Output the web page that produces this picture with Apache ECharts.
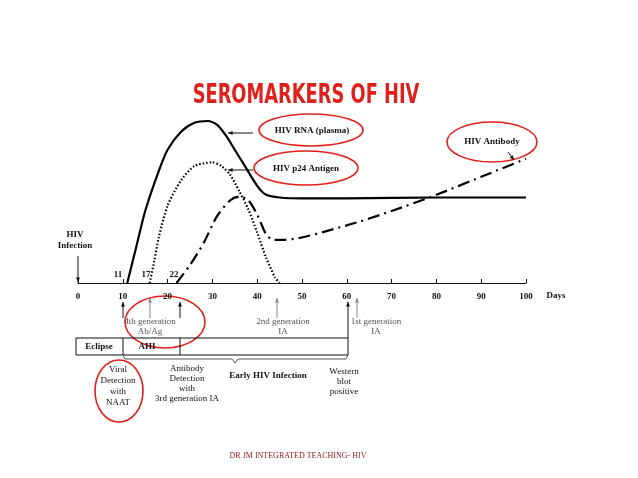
<!DOCTYPE html>
<html><head><meta charset="utf-8">
<script src="https://cdn.jsdelivr.net/npm/echarts@6/dist/echarts.min.js"></script>
<style>html,body{margin:0;background:#fff}#c{width:638px;height:478px}</style>
</head><body><div id="c"></div>
<script>
// days vs relative level
const rnaData = [[11,0],[13,20],[15,40],[18,62],[20,74],[23,84],[26,89],[29,90],[31,88],[33,82],[35,74],[37,66],[40,54],[42,49],[45,47.5],[50,47],[60,47],[80,47.5],[100,47.5]];
const p24Data = [[16,0],[17,12],[18,25],[20,43],[23,57],[26,65],[30,67],[32,65],[34,60],[36,51],[38,41],[40,28],[42,14],[44,3],[45,0]];
const abData = [[22,0],[25,10],[28,22],[31,37],[34,46],[36,48],[38,46],[40,38],[42,27],[43.5,24],[46,24],[60,32],[70,40],[80,49],[90,59],[100,69]];
const xTicks = [0,10,20,30,40,50,60,70,80,90,100];

const chart = echarts.init(document.getElementById('c'));
const serif = 'Liberation Serif';
const lbl = (x, y, text, o) => ({type:'text', x, y, style:Object.assign({text, font:'bold 9px '+serif, fill:'#111', align:'center', verticalAlign:'middle'}, o||{})});
const ell = (cx, cy, rx, ry) => ({type:'ellipse', shape:{cx, cy, rx, ry}, style:{fill:'none', stroke:'#e0201b', lineWidth:1.6}});
const arr = (x1, y1, x2, y2, c) => {
  const a = Math.atan2(y2 - y1, x2 - x1), h = 5;
  return [{type:'line', shape:{x1, y1, x2, y2}, style:{stroke:c, lineWidth:1}},
    {type:'polygon', shape:{points:[[x2,y2],[x2-h*Math.cos(a-0.4),y2-h*Math.sin(a-0.4)],[x2-h*Math.cos(a+0.4),y2-h*Math.sin(a+0.4)]]}, style:{fill:c}}];
};
const normal = {font:'9px '+serif, fill:'#555'};

const graphics = [
  Object.assign(lbl(0, 0, 'SEROMARKERS OF HIV', {font:'bold 27px "DejaVu Sans"', fill:'#e0201b'}), {x:306, y:96, scaleX:0.66}),
  lbl(298, 456, 'DR JM INTEGRATED TEACHING- HIV', {font:'8px '+serif, fill:'#8b1a1a'}),
  lbl(312, 131, 'HIV RNA (plasma)'), ell(311, 130, 52, 16), ...arr(253, 133, 228, 133, '#111'),
  lbl(306, 169, 'HIV p24 Antigen'), ell(306, 168, 52, 17), ...arr(253, 170, 228, 170, '#111'),
  lbl(492, 142, 'HIV Antibody'), ell(492, 142, 45, 20), ...arr(508, 152, 514, 160, '#111'),
  lbl(75, 235, 'HIV'), lbl(75, 246, 'Infection'), ...arr(78, 256, 78, 282, '#111'),
  lbl(118, 275, '11'), lbl(146, 275, '17'), lbl(174, 275, '22'),
  lbl(556, 296, 'Days'),
  ...arr(123, 318, 123, 302, '#111'), ...arr(180, 318, 180, 302, '#111'), ...arr(348, 338, 348, 302, '#111'),
  ...arr(150, 318, 150, 298, '#888'), ...arr(277, 318, 277, 298, '#888'), ...arr(357, 318, 357, 298, '#888'),
  lbl(150, 322, '4th generation', normal), lbl(150, 332, 'Ab/Ag', normal),
  lbl(283, 322, '2nd generation', normal), lbl(283, 332, 'IA', normal),
  lbl(376, 322, '1st generation', normal), lbl(376, 332, 'IA', normal),
  ell(165, 322, 40, 26),
  {type:'rect', shape:{x:76, y:338, width:272, height:17}, style:{fill:'none', stroke:'#111', lineWidth:1}},
  {type:'line', shape:{x1:123, y1:338, x2:123, y2:355}, style:{stroke:'#111'}},
  {type:'line', shape:{x1:180, y1:338, x2:180, y2:355}, style:{stroke:'#111'}},
  lbl(99, 347, 'Eclipse'), lbl(147, 347, 'AHI'),
  {type:'polyline', shape:{points:[[123,355],[125,359],[232,359],[235,363],[238,359],[346,359],[348,355]]}, style:{fill:'none', stroke:'#555', lineWidth:1}},
  lbl(268, 376, 'Early HIV Infection'),
  ...['Viral','Detection','with','NAAT'].map((t,i) => lbl(118, 370 + i*11, t, {font:'9px '+serif, fill:'#111'})),
  ell(119, 391, 24, 31),
  ...['Antibody','Detection','with','3rd generation IA'].map((t,i) => lbl(187, 369 + i*10, t, {font:'9px '+serif, fill:'#111'})),
  ...['Western','blot','positive'].map((t,i) => lbl(344, 372 + i*10, t, {font:'9px '+serif, fill:'#111'}))
];

const line = (data, type) => ({type:'line', data, smooth:0.25, symbol:'none', silent:true,
  lineStyle:{color:'#000', width:2.2, type}});

chart.setOption({
  animation:false,
  grid:{left:78, right:112, top:103, bottom:195},
  xAxis:{type:'value', min:0, max:100, interval:10,
    axisLine:{lineStyle:{color:'#111', width:1.2}}, axisTick:{inside:true, length:4, lineStyle:{color:'#111'}},
    axisLabel:{margin:9, fontFamily:serif, fontWeight:'bold', fontSize:9, color:'#111',
      formatter:v => xTicks.includes(v) ? v : ''},
    splitLine:{show:false}},
  yAxis:{type:'value', min:0, max:100, show:false},
  series:[line(rnaData,'solid'), line(p24Data,[1.5,2]), line(abData,[12,5,2,5])],
  graphic:graphics
});
</script></body></html>
